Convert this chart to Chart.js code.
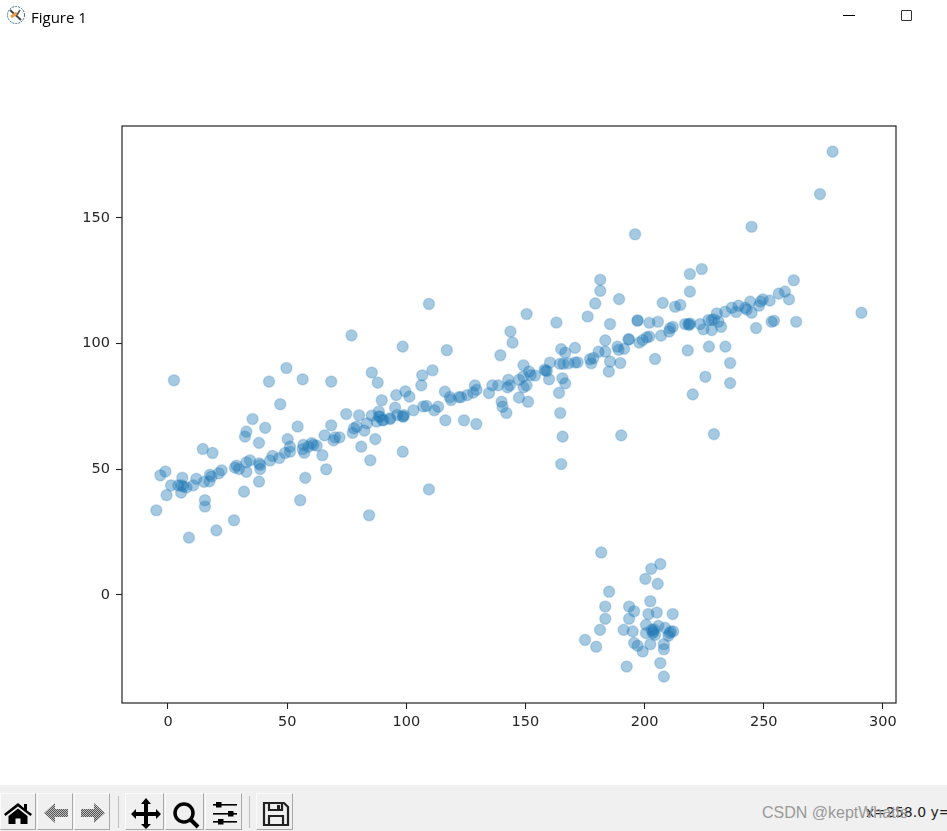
<!DOCTYPE html>
<html>
<head>
<meta charset="utf-8">
<title>Figure 1</title>
<script src="https://cdn.jsdelivr.net/npm/chart.js@4"></script>
<style>
  html, body { margin: 0; padding: 0; background: #fff; }
  #page { position: relative; width: 947px; height: 831px; overflow: hidden; font-family: "DejaVu Sans", sans-serif; }
  #chart { position: absolute; left: 0; top: 0; }
  #title { position: absolute; left: 31px; top: 7px; font: 15px "Open Sans", "Noto Sans", sans-serif; color: #000; }
  #logo { position: absolute; left: 6px; top: 5px; }
  #min { position: absolute; left: 843px; top: 15px; width: 12px; height: 1px; background: #000; }
  #max { position: absolute; left: 901px; top: 10px; width: 9px; height: 9px; border: 1.5px solid #333; border-radius: 1px; }
  #toolbar { position: absolute; left: 0; top: 785px; width: 947px; height: 46px; background: #f0f0f0; }
  .btn { position: absolute; top: 8px; height: 37px; box-sizing: border-box; border-top: 1px solid #fbfbfb; border-left: 1px solid #fbfbfb; border-right: 1px solid #a8a8a8; border-bottom: 1px solid #a8a8a8; }
  .btn svg { position: absolute; left: 0; top: 0; }
  .sep { position: absolute; top: 11px; width: 1px; height: 32px; background: #bdbdbd; }
  #watermark { position: absolute; left: 762px; top: 19px; font: 16px "Liberation Sans", sans-serif; color: #999; white-space: nowrap; }
  #status { position: absolute; left: 866px; top: 19px; font: 14px "DejaVu Sans", sans-serif; color: #222; white-space: nowrap; }
</style>
</head>
<body>
<div id="page">
  <canvas id="chart" width="947" height="831"></canvas>
  <svg id="logo" width="20" height="20" viewBox="0 0 20 20">
    <circle cx="10" cy="10" r="8.5" fill="#fff" stroke="#2f6f8f" stroke-width="1" stroke-dasharray="2 1"/>
    <path d="M4 5 L15 15" stroke="#444" stroke-width="2"/>
    <path d="M5 12 L11 8" stroke="#e8a040" stroke-width="3"/>
    <path d="M14 5 L11 10" stroke="#555" stroke-width="1.5"/>
  </svg>
  <div id="title">Figure 1</div>
  <div id="min"></div>
  <div id="max"></div>
  <div id="toolbar">
    <svg width="0" height="0" style="position:absolute"><defs><pattern id="hatch" width="2" height="2" patternUnits="userSpaceOnUse"><rect width="2" height="2" fill="#bdbdbd"/><rect width="1" height="1" fill="#555"/><rect x="1" y="1" width="1" height="1" fill="#555"/></pattern></defs></svg>
    <div class="btn" style="left:0;width:36px"><svg width="36" height="36" viewBox="0 0 36 36"><path d="M3 20 L17 9 L23 14 V10 H26 V16.5 L31 20 L29.5 22 L17 12.5 L4.5 22 Z" fill="#000"/><path d="M7.5 22 L17 14.5 L26.5 22 V30 H19.5 V24.5 H14.5 V30 H7.5 Z" fill="#000"/></svg></div>
    <div class="btn" style="left:37px;width:36px"><svg width="36" height="36" viewBox="0 0 36 36"><path d="M17 9 L6 19 L17 29 V23 H30 V15 H17 Z" fill="url(#hatch)"/></svg></div>
    <div class="btn" style="left:74px;width:36px"><svg width="36" height="36" viewBox="0 0 36 36"><path d="M19 9 L30 19 L19 29 V23 H6 V15 H19 Z" fill="url(#hatch)"/></svg></div>
    <div class="sep" style="left:118px"></div>
    <div class="btn" style="left:125px;width:39px"><svg width="39" height="36" viewBox="0 0 39 36"><path d="M20 4 L25 10 H22 V18 H30 V15 L35 20 L30 25 V22 H22 V30 H25 L20 35 L15 30 H18 V22 H10 V25 L5 20 L10 15 V18 H18 V10 H15 Z" fill="#000"/></svg></div>
    <div class="btn" style="left:165px;width:39px"><svg width="39" height="36" viewBox="0 0 39 36"><circle cx="18" cy="19" r="9" fill="none" stroke="#000" stroke-width="3.5"/><path d="M24.5 25.5 L32 33" stroke="#000" stroke-width="4"/></svg></div>
    <div class="btn" style="left:205px;width:37px"><svg width="37" height="36" viewBox="0 0 37 36"><g fill="#000"><rect x="7" y="10" width="24" height="1.6"/><rect x="7" y="19" width="24" height="1.6"/><rect x="7" y="27" width="24" height="1.6"/><rect x="10" y="8" width="5.5" height="5.5"/><rect x="22" y="17" width="5.5" height="5.5"/><rect x="12" y="25" width="5.5" height="5.5"/></g></svg></div>
    <div class="sep" style="left:249px"></div>
    <div class="btn" style="left:256px;width:37px"><svg width="37" height="36" viewBox="0 0 37 36"><path d="M7 9 H27 L31 13 V31 H7 Z" fill="none" stroke="#222" stroke-width="2.2"/><path d="M12 10 V16 H25 V10" fill="none" stroke="#222" stroke-width="2.2"/><rect x="20" y="11" width="3" height="4" fill="#222"/><path d="M12 31 V22 H26 V31" fill="none" stroke="#222" stroke-width="2.2"/></svg></div>
    <div id="status">x=258.0 y=</div>
    <div id="watermark">CSDN @keptWhatIs</div>
  </div>
</div>
<script>
// values, split by region of the plot
const leftX = [2.5, 77, 49.7, 42.4, 56.5, 68.5, 85.5, 88, 47.1, 89.7, 35.5, 40.8, 54.4, 32.9, 32.3, 68.5, 38.2, 74.8, 80.2, 50.2, 65.7, 70.1, 69.5, 72, 14.6, 18.7, 77.5, 78, 79.2, 83.5, 82.4, 85.5, 88.5, 88.5, 87.6, 90.4, 93.2, 87, 81.1, 84.9, 84.4, 51.2, 49.1, 51.2, 46.7, 43.9, 42.8, 38.7, 38.2, 38.7, 34.4, 32.9, 32.9, 38.2, 31.9, 28.8, 28.1, 29.8, 22.5, 21.3, 17.6, 18.3, 17.4, 15.1, 11.9, 10.6, 7.8, 6, 5.6, 4.3, 6.4, 5.5, 1.3, -0.6, -3.2, -1.1, -4.9, 15.5, 15.5, 27.7, 20.3, 8.8, 55.5, 57.6, 64.8, 66.4, 56.8, 56.5, 57.2, 58.9, 60.3, 62.4, 61];
const leftY = [85.4, 103.3, 90.3, 84.9, 85.8, 84.9, 88.5, 84.5, 75.9, 77.5, 70, 66.5, 67, 65, 63, 67.5, 60.5, 72, 71.5, 62, 63.5, 62.7, 61.5, 62.7, 58.1, 56.5, 64.5, 66.3, 67, 68.3, 65.4, 71.4, 73, 71, 69, 69.6, 70.3, 62, 59, 53.6, 31.7, 59, 56.5, 57, 54.5, 55.3, 53.5, 51.7, 52.4, 50.1, 53.6, 52.8, 49, 45.1, 41.1, 51.5, 50.7, 50.1, 49.6, 48.4, 47.8, 47.1, 45.2, 45, 46.2, 43.6, 42.8, 46.6, 43.6, 43.6, 43.1, 40.7, 43.6, 39.7, 47.6, 49.1, 33.7, 37.7, 35.2, 29.7, 25.7, 22.8, 37.7, 46.6, 55.6, 50, 59.7, 58, 56.6, 59, 60.4, 59.4, 59.7];

const middleX = [109.5, 98.5, 117, 111, 106.7, 106.3, 95.8, 99.6, 101.3, 95.3, 116.2, 118.3, 118.8, 122.1, 123, 125.6, 128.8, 129.5, 128.1, 134.7, 136.1, 138.6, 142.8, 143.5, 142.5, 147.3, 149.2, 151.5, 152.2, 154, 149.1, 150.5, 149.2, 147.3, 151.1, 139.5, 144.6, 143.7, 150.5, 163, 140, 140.4, 142, 116.4, 124.2, 129.4, 113.4, 111.8, 107.1, 108.5, 103, 98.8, 98.5, 99, 96.2, 93.2, 90, 89, 98.5, 109.5, 158.5, 159, 158, 160.3, 159.9, 165, 166.7, 170.8, 164.5, 165.9, 168, 170.8, 171.9, 165.5, 166.7, 164.1, 164.6, 165.6, 165, 190.2, 176.1, 179.3, 181.4, 181.4, 189.3, 185.5, 197.1, 183.5, 193.2, 177.1, 177.6, 178.5, 180.7, 183.5, 185.5, 185, 188.6, 189.1, 191.4, 189.8];
const middleY = [115.8, 98.8, 97.4, 89.4, 87.4, 83.4, 79.5, 81, 78.9, 74.5, 80.9, 78.7, 77.6, 78.7, 78.7, 79.5, 83.4, 81.6, 80.5, 80.3, 83.4, 83.4, 85.6, 83.4, 82.6, 85.6, 91.4, 88.9, 87.5, 87.3, 86.9, 83.4, 82.6, 78.5, 76.9, 95.4, 100.4, 104.8, 111.8, 108.4, 76.9, 74.9, 72.4, 69.5, 69.5, 68, 74.9, 73.5, 75, 75.2, 73.5, 71, 71, 71.6, 71.6, 70, 69.5, 71, 57, 42, 89.3, 89.1, 89.6, 92.5, 85.8, 97.8, 96.4, 98.3, 92, 92, 92.2, 92.5, 92.6, 86.2, 84.2, 80.4, 72.4, 63, 52.1, 63.5, 110.8, 116, 121, 125.4, 117.7, 107.8, 109.3, 101.3, 101.7, 93.8, 92.2, 94.3, 96.8, 96.8, 92.9, 88.9, 98.8, 97.5, 97.9, 92.3];

const rightX = [278.9, 273.6, 244.9, 196, 224, 219, 219, 262.6, 291, 263.6, 258.9, 256.3, 260.6, 252.5, 249.6, 248.7, 248, 244.9, 244.3, 242.2, 242.9, 239.4, 238.4, 236.6, 233.8, 230.3, 229.1, 226.8, 228.2, 231, 223.3, 224.7, 228.2, 232.1, 219.1, 218.4, 218.7, 217, 211.8, 210.7, 210.3, 206.9, 207.6, 212.8, 215, 197, 202, 205.6, 202, 200.9, 199.2, 197.8, 193.5, 246.8, 253.3, 254.3, 218.1, 227, 233.9, 235.9, 204.4, 225.5, 235.9, 220.2, 229.1];
const rightY = [176.4, 159.5, 146.5, 143.5, 129.7, 127.7, 120.7, 125.2, 112.3, 108.7, 120.7, 119.9, 117.6, 117.1, 117.6, 116.7, 115.1, 112.3, 116.7, 114.3, 113.6, 115.1, 112.6, 114.3, 112.7, 112, 109.7, 109.4, 109.4, 108.7, 107.8, 105.7, 105.4, 106.7, 108, 107.8, 107.4, 107.8, 106.7, 106.1, 104.8, 103.2, 116.2, 114.7, 115.4, 109.1, 108.3, 108.7, 102.8, 102.5, 101.4, 100.4, 101.7, 106.2, 108.7, 109.1, 97.3, 98.8, 98.8, 92.3, 93.9, 86.8, 84.3, 79.8, 64];

const clusterX = [181.8, 206.6, 202.8, 200.3, 205.5, 185.1, 202.4, 183.5, 193.5, 195.6, 201.6, 205.1, 211.8, 183.5, 193.5, 181.3, 175, 179.7, 191.2, 195, 200.6, 205.8, 208.6, 212, 200.6, 203, 203.7, 203.9, 203.4, 204.4, 210.4, 210, 211, 195.6, 197.1, 202.4, 199.2, 208.1, 208.1, 192.5, 206.6, 208.1];
const clusterY = [16.9, 12.3, 10.4, 6.4, 4.4, 1.3, -2.5, -4.6, -4.6, -6.5, -7.6, -7, -7.6, -9.5, -9.5, -13.9, -17.9, -20.6, -13.9, -14.5, -11.9, -12.3, -13.1, -14.5, -15.2, -13.9, -14.6, -13.7, -15.2, -15.9, -15.2, -16.3, -14.6, -19.1, -20.2, -19.6, -22.5, -19.6, -21.6, -28.5, -27.1, -32.5];

const xTicks = [0, 50, 100, 150, 200, 250, 300];
const yTicks = [0, 50, 100, 150];

const toPoints = (xs, ys) => xs.map((x, i) => ({ x: x, y: ys[i] }));

const makeDataset = (xs, ys) => ({
  data: toPoints(xs, ys),
  backgroundColor: "rgba(31,119,180,0.4)",
  borderColor: "rgba(31,119,180,0.22)",
  borderWidth: 1.4,
  pointRadius: 5.6,
  pointHoverRadius: 5.6,
});

const makeAxis = (min, max, values, padding) => ({
  type: "linear",
  min: min,
  max: max,
  afterBuildTicks: (axis) => {
    axis.ticks = values.map((v) => ({ value: v }));
  },
  grid: { drawOnChartArea: false, tickColor: "#222", tickLength: 6, tickWidth: 1.1 },
  border: { display: false },
  ticks: { color: "#262626", font: { family: "DejaVu Sans", size: 14.5 }, padding: padding, maxRotation: 0, autoSkip: false },
});

const xAxis = makeAxis(-19.3, 305.5, xTicks, 5);
xAxis.afterFit = (axis) => { axis.height = 30; };
const yAxis = makeAxis(-43, 186.6, yTicks, 6);
yAxis.afterFit = (axis) => { axis.width = 122; };

// full box round the axes, like the matplotlib frame
const framePlugin = {
  id: "frame",
  afterDraw: (chart) => {
    const { ctx, chartArea } = chart;
    ctx.save();
    ctx.strokeStyle = "#222";
    ctx.lineWidth = 1.2;
    ctx.strokeRect(chartArea.left, chartArea.top, chartArea.right - chartArea.left, chartArea.bottom - chartArea.top);
    ctx.restore();
  },
};

new Chart(document.getElementById("chart"), {
  type: "scatter",
  data: {
    datasets: [
      makeDataset(leftX, leftY),
      makeDataset(middleX, middleY),
      makeDataset(rightX, rightY),
      makeDataset(clusterX, clusterY),
    ],
  },
  options: {
    responsive: false,
    animation: false,
    layout: { padding: { left: 0, top: 126, right: 51, bottom: 98 } },
    plugins: { legend: { display: false }, tooltip: { enabled: false } },
    scales: { x: xAxis, y: yAxis },
  },
  plugins: [framePlugin],
});
</script>
</body>
</html>
